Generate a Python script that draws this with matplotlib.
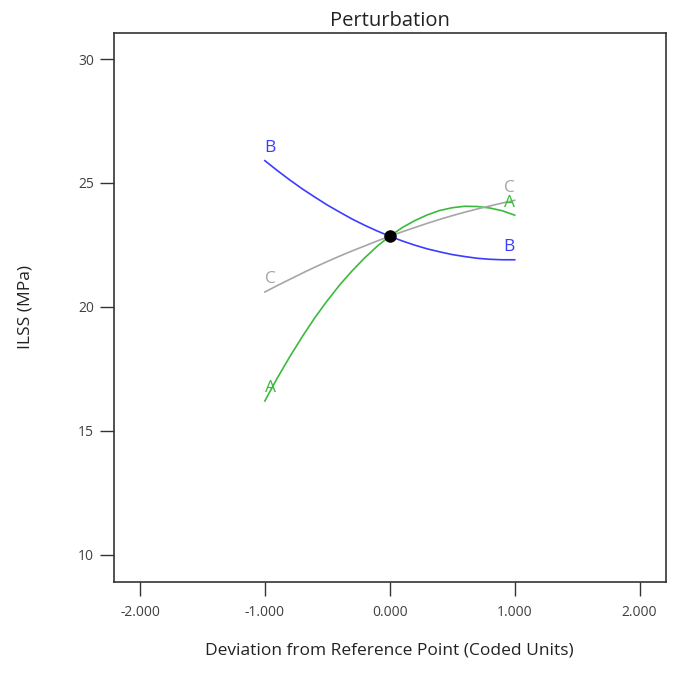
import matplotlib
matplotlib.use('Agg')
import matplotlib.pyplot as plt

plt.rcParams['font.family'] = ['Open Sans', 'DejaVu Sans']

# deviation from reference point (coded units)
deviation = [-1.0, -0.9, -0.8, -0.7, -0.6, -0.5, -0.4, -0.3, -0.2, -0.1, 0.0,
             0.1, 0.2, 0.3, 0.4, 0.5, 0.6, 0.7, 0.8, 0.9, 1.0]

# ILSS (MPa)
ilss_a = [16.20, 17.13, 17.99, 18.80, 19.56, 20.25, 20.89, 21.46, 21.98, 22.45, 22.85,
          23.20, 23.48, 23.71, 23.89, 24.00, 24.06, 24.05, 23.99, 23.88, 23.70]
ilss_b = [25.90, 25.50, 25.12, 24.76, 24.43, 24.11, 23.82, 23.54, 23.29, 23.06, 22.85,
          22.66, 22.49, 22.34, 22.22, 22.11, 22.03, 21.96, 21.92, 21.90, 21.90]
ilss_c = [20.60, 20.86, 21.11, 21.36, 21.60, 21.83, 22.05, 22.26, 22.46, 22.66, 22.85,
          23.03, 23.20, 23.37, 23.53, 23.68, 23.82, 23.95, 24.07, 24.19, 24.30]

factors = ['A', 'B', 'C']
colors = ['#3cba3c', '#3c3cff', '#a6a6a6']
reference = (0.0, 22.85)

x_ticks = [-2, -1, 0, 1, 2]
y_ticks = [10, 15, 20, 25, 30]

fig = plt.figure(figsize=(6.85, 6.75), dpi=100)
ax = fig.add_axes([0.166, 0.138, 0.806, 0.813])

for name, values, color in zip(factors, [ilss_a, ilss_b, ilss_c], colors):
    ax.plot(deviation, values, color=color, linewidth=1.2)
    ax.annotate(name, (deviation[0], values[0]), xytext=(4, 9),
                textcoords='offset points', color=color, fontsize=12.5,
                ha='center', va='center')
    ax.annotate(name, (deviation[-1], values[-1]), xytext=(-4, 9),
                textcoords='offset points', color=color, fontsize=12.5,
                ha='center', va='center')

ax.plot([reference[0]], [reference[1]], 'o', color='black', markersize=8, zorder=5)

ax.set_xlim(-2.21, 2.21)
ax.set_ylim(8.9, 31.05)
ax.set_xticks(x_ticks)
ax.set_xticklabels([f'{t:.3f}' for t in x_ticks])
ax.set_yticks(y_ticks)

for s in ax.spines.values():
    s.set_color('#333333')
    s.set_linewidth(1.2)
ax.tick_params(direction='out', length=10, width=1.0, color='#333333',
               labelcolor='#404040', labelsize=10, pad=4)
ax.tick_params(axis='x', pad=7)

ax.set_title('Perturbation', fontsize=14.5, color='#222222', pad=5)
ax.set_xlabel('Deviation from Reference Point (Coded Units)', fontsize=12.5,
              color='#222222', labelpad=16)
ax.set_ylabel('ILSS (MPa)', fontsize=12.5, color='#222222', labelpad=32)

fig.savefig('out.png', dpi=100)
